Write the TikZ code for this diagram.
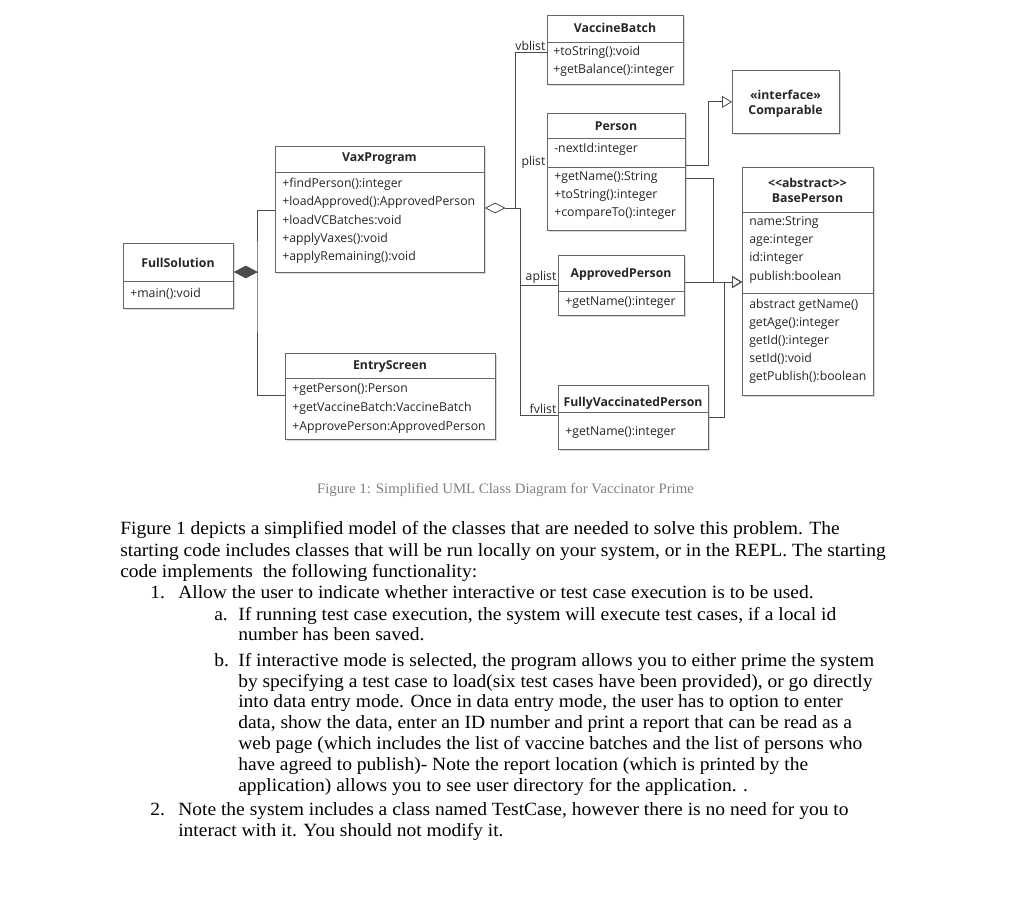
\documentclass[tikz,border=0pt]{standalone}
\usepackage{fontspec}
\setmainfont[FakeStretch=1.045]{Liberation Serif}
\newfontfamily\capfont[FakeStretch=1.03]{Liberation Serif}
\newfontfamily\umlfont{Open Sans}
\usetikzlibrary{arrows.meta,calc,shadows}
\begin{document}
\begin{tikzpicture}[x=0.75pt,y=-0.75pt,
  cls/.style={draw=black!60, line width=0.6pt, fill=white, anchor=north west, inner sep=0pt,
    drop shadow={shadow xshift=1.2pt,shadow yshift=-1.2pt,fill=black!30,opacity=0.5}},
  ttl/.style={font=\umlfont\bfseries\fontsize{9.2}{10}\selectfont, inner sep=0pt, text=black!85},
  mem/.style={font=\umlfont\fontsize{9.2}{10}\selectfont, anchor=west, inner sep=0pt, text=black!85},
  div/.style={draw=black!60, line width=0.6pt},
  conn/.style={draw=black!70, line width=0.6pt},
  gen/.style={conn, -{Triangle[open,length=7.5pt,width=9pt]}},
  lbl/.style={font=\umlfont\fontsize{9.2}{10}\selectfont, inner sep=1pt, anchor=south east, text=black!85},
  body/.style={font=\fontsize{14}{16}\selectfont, anchor=base west, inner sep=0pt},
  figcap/.style={font=\capfont\fontsize{10.8}{12}\selectfont, inner sep=0pt, text=black!50},
]
\fill[white] (0,0) rectangle (1024,923);
\path[use as bounding box] (0,0) rectangle (1024,923);

% ---------- class boxes ----------
% VaccineBatch
\node[cls, minimum width=136*0.75pt, minimum height=69*0.75pt] (vb) at (547,15) {};
\draw[div] (547,42) -- (683,42);
\node[ttl] (vbT) at (615,28) {VaccineBatch};
\node[mem] (vbM1) at (553,52) {+toString():void};
\node[mem] (vbM2) at (553,70) {+getBalance():integer};

% Comparable
\node[cls, minimum width=107*0.75pt, minimum height=63*0.75pt] (cmp) at (732,70) {};
\node[ttl] (cmpT1) at (785.5,95) {«interface»};
\node[ttl] (cmpT2) at (785.5,111) {Comparable};

% Person
\node[cls, minimum width=138*0.75pt, minimum height=117*0.75pt] (per) at (547,113) {};
\draw[div] (547,138) -- (685,138);
\draw[div] (547,167) -- (685,167);
\node[ttl] (perT) at (616,126) {Person};
\node[mem] (perA1) at (554,149) {-nextId:integer};
\node[mem] (perM1) at (554,177) {+getName():String};
\node[mem] (perM2) at (554,195) {+toString():integer};
\node[mem] (perM3) at (554,213) {+compareTo():integer};

% VaxProgram
\node[cls, minimum width=209*0.75pt, minimum height=126*0.75pt] (vax) at (275,146) {};
\draw[div] (275,172) -- (484,172);
\node[ttl] (vaxT) at (379.5,159) {VaxProgram};
\node[mem] (vaxM1) at (282,184) {+findPerson():integer};
\node[mem] (vaxM2) at (282,202) {+loadApproved():ApprovedPerson};
\node[mem] (vaxM3) at (282,220) {+loadVCBatches:void};
\node[mem] (vaxM4) at (282,239) {+applyVaxes():void};
\node[mem] (vaxM5) at (282,257) {+applyRemaining():void};

% FullSolution
\node[cls, minimum width=110*0.75pt, minimum height=65*0.75pt] (fs) at (123,243) {};
\draw[div] (123,281) -- (233,281);
\node[ttl] (fsT) at (178,263) {FullSolution};
\node[mem] (fsM1) at (130,294) {+main():void};

% EntryScreen
\node[cls, minimum width=210*0.75pt, minimum height=86*0.75pt] (es) at (285,353) {};
\draw[div] (285,378) -- (495,378);
\node[ttl] (esT) at (390,367) {EntryScreen};
\node[mem] (esM1) at (292,390) {+getPerson():Person};
\node[mem] (esM2) at (292,408) {+getVaccineBatch:VaccineBatch};
\node[mem] (esM3) at (292,427) {+ApprovePerson:ApprovedPerson};

% ApprovedPerson
\node[cls, minimum width=126*0.75pt, minimum height=60*0.75pt] (ap) at (558,255) {};
\draw[div] (558,291) -- (684,291);
\node[ttl] (apT) at (621,274) {ApprovedPerson};
\node[mem] (apM1) at (565,302) {+getName():integer};

% FullyVaccinatedPerson
\node[cls, minimum width=150*0.75pt, minimum height=64*0.75pt] (fvp) at (558,385) {};
\draw[div] (558,412) -- (708,412);
\node[ttl] (fvpT) at (633,403) {FullyVaccinatedPerson};
\node[mem] (fvpM1) at (565,432) {+getName():integer};

% BasePerson
\node[cls, minimum width=131*0.75pt, minimum height=228*0.75pt] (bp) at (742,167) {};
\draw[div] (742,212) -- (873,212);
\draw[div] (742,293) -- (873,293);
\node[ttl] (bpT1) at (807.5,183) {<<abstract>>};
\node[ttl] (bpT2) at (807.5,198) {BasePerson};
\node[mem] (bpA1) at (749,222) {name:String};
\node[mem] (bpA2) at (749,240) {age:integer};
\node[mem] (bpA3) at (749,258) {id:integer};
\node[mem] (bpA4) at (749,277) {publish:boolean};
\node[mem] (bpM1) at (749,305) {abstract getName()};
\node[mem] (bpM2) at (749,323) {getAge():integer};
\node[mem] (bpM3) at (749,341) {getId():integer};
\node[mem] (bpM4) at (749,359) {setId():void};
\node[mem] (bpM5) at (749,377) {getPublish():boolean};

% ---------- connectors ----------
\coordinate (trunkL) at (520,208);
\coordinate (trunkU) at (515,208);
\draw[conn,{Diamond[open,length=15.5pt,width=8pt]}-] ($(vax.north east)+(0,62)$) -- (trunkL)
   |- ($(fvp.north west)+(0,30)$);
\draw[conn] (ap.west) -- (ap.west -| trunkL);
\draw[conn] (trunkU) |- ($(vb.north west)+(0,37)$);
\draw[conn] ($(per.north west)+(0,57)$) -- ($(per.north west)+(0,57)$ -| trunkU);
\node[lbl] (lvb) at ($(vb.north west)+(0,37)$) {vblist};
\node[lbl] (lper) at ($(per.north west)+(0,57)$) {plist};
\node[lbl] (lap) at (ap.west) {aplist};
\node[lbl] (lfvp) at ($(fvp.north west)+(0,30)$) {fvlist};

\coordinate (trunkC) at (257,272);
\draw[conn,{Diamond[length=18pt,width=9.5pt]}-] ($(fs.north east)+(0,29)$) -- (trunkC);
\draw[conn] ($(vax.north west)+(0,64)$) -| (trunkC) |- ($(es.north west)+(0,42)$);

\draw[gen] ($(per.north east)+(0,52)$) -| ($(cmp.west)+(-24,0)$) -- (cmp.west);
\draw[gen] ($(per.north east)+(0,65)$) -| ($(bp.north west)+(-29,115)$) -- ($(bp.north west)+(0,115)$);
\draw[gen] ($(ap.north east)+(0,27)$) -- ($(bp.north west)+(0,115)$);
\draw[gen] ($(fvp.north east)+(0,32)$) -| ($(bp.north west)+(-18,115)$) -- ($(bp.north west)+(0,115)$);

% ---------- caption ----------
\node[figcap] (caption) at (505.5,490) {Figure 1: Simplified UML Class Diagram for Vaccinator Prime};

% ---------- body text ----------
\node[body] (p1) at (120,534) {Figure 1 depicts a simplified model of the classes that are needed to solve this problem. The};
\node[body] (p2) at (120,556) {starting code includes classes that will be run locally on your system, or in the REPL. The starting};
\node[body] (p3) at (120,577) {code implements\ \ the following functionality:};
\node[body] (n1) at (150,598) {1.};
\node[body] (t1) at (178,598) {Allow the user to indicate whether interactive or test case execution is to be used.};
\node[body] (na) at (214,620) {a.};
\node[body] (ta1) at (238,620) {If running test case execution, the system will execute test cases, if a local id};
\node[body] (ta2) at (238,640) {number has been saved.};
\node[body] (nb) at (214,666) {b.};
\node[body] (tb1) at (238,666) {If interactive mode is selected, the program allows you to either prime the system};
\node[body] (tb2) at (238,687) {by specifying a test case to load(six test cases have been provided), or go directly};
\node[body] (tb3) at (238,707) {into data entry mode. Once in data entry mode, the user has to option to enter};
\node[body] (tb4) at (238,728) {data, show the data, enter an ID number and print a report that can be read as a};
\node[body] (tb5) at (238,749) {web page (which includes the list of vaccine batches and the list of persons who};
\node[body] (tb6) at (238,770) {have agreed to publish)- Note the report location (which is printed by the};
\node[body] (tb7) at (238,791) {application) allows you to see user directory for the application. .};
\node[body] (n2) at (150,815) {2.};
\node[body] (t2) at (178,815) {Note the system includes a class named TestCase, however there is no need for you to};
\node[body] (t2b) at (178,836) {interact with it. You should not modify it.};
\end{tikzpicture}
\end{document}
